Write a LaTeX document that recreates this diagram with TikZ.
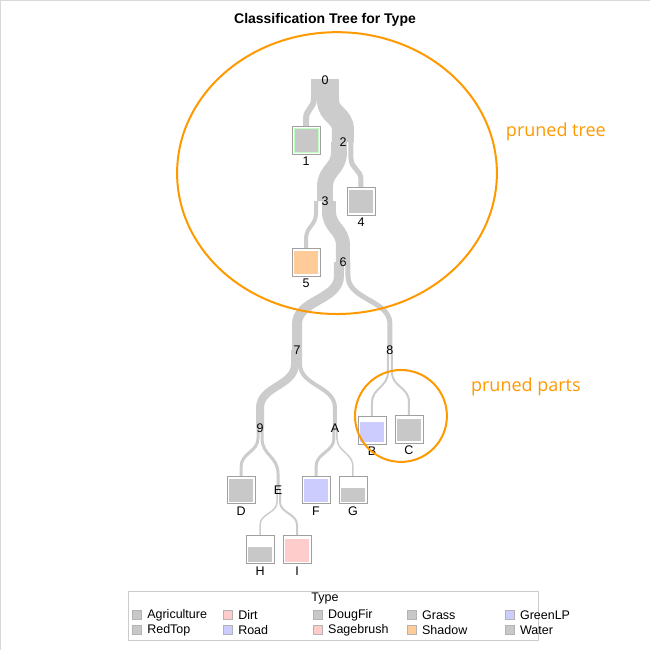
\documentclass[tikz,border=0pt]{standalone}
\usepackage{fontspec}
\setmainfont{Liberation Sans}
\newfontfamily\notefont{Open Sans}
\usetikzlibrary{calc}
\definecolor{brc}{HTML}{CCCCCC}
\definecolor{bxc}{HTML}{A0A0A0}
\definecolor{org}{HTML}{FF9900}
\definecolor{gfill}{HTML}{C8C8C8}
\definecolor{bfill}{HTML}{CCCCFF}
\definecolor{ofill}{HTML}{FFCC99}
\definecolor{pfill}{HTML}{FFCCCC}
\tikzset{
  br/.style={draw=brc},
  lab/.style={font=\fontsize{12.5}{12.5}\selectfont, inner sep=1pt},
  legt/.style={font=\fontsize{12.5}{12.5}\selectfont, anchor=west, inner sep=0pt},
}
% parent, child, width, curve start offset, curve end offset
\newcommand\tbr[5]{\draw[br,line width=#3pt] let \p1=(#1),\p2=(#2),\n1={(\y1-#4+\y2+#5)/2} in
  (\x1,\y1) -- (\x1,\y1-#4) .. controls (\x1,\n1) and (\x2,\n1) .. (\x2,\y2+#5) -- (\x2,\y2);}
% name, x, y, fill, fraction, label
\newcommand\leaf[6]{%
  \node[draw=bxc, fill=white, minimum size=28pt, inner sep=0pt, line width=0.8pt] (#1) at (#2,#3) {};
  \fill[#4] ($(#1.south west)+(2.5pt,2.5pt)$) rectangle ($(#1.south east)+(-2.5pt,{2.5pt+23pt*#5})$);
  \node[lab, anchor=north] (#1l) at ($(#1.south)+(0,-1pt)$) {#6};}
\newcommand\sw[2]{\draw[bxc!80, fill=#2] ($(#1)+(-4.5pt,-4.5pt)$) rectangle ($(#1)+(4.5pt,4.5pt)$);}
\begin{document}
\begin{tikzpicture}[x=1pt,y=-1pt]
\draw[gray!30, fill=white] (0,0) rectangle (650,650);
\useasboundingbox (0,0) rectangle (650,650);
\node[font=\bfseries\fontsize{14}{14}\selectfont] (title) at (325,20) {Classification Tree for Type};
% internal node coordinates
\coordinate (p0a) at (314,90); \coordinate (p0b) at (328,90);
\coordinate (n2) at (343,142); \coordinate (p2a) at (339,142); \coordinate (p2b) at (351,142);
\coordinate (n3) at (325,201); \coordinate (p3a) at (316,201); \coordinate (p3b) at (329,201);
\coordinate (n6) at (343,262); \coordinate (p6a) at (339,262); \coordinate (p6b) at (348,262);
\coordinate (n7) at (297,350); \coordinate (p7a) at (295,350); \coordinate (p7b) at (300,350);
\coordinate (n8) at (390,350); \coordinate (p8a) at (388,350); \coordinate (p8b) at (392,350);
\coordinate (n9) at (260,428); \coordinate (p9a) at (258,428); \coordinate (p9b) at (262,428);
\coordinate (nA) at (335,428); \coordinate (pAa) at (334,428); \coordinate (pAb) at (337,428);
\coordinate (nE) at (278,490); \coordinate (pEa) at (277,490); \coordinate (pEb) at (280,490);
\fill[brc] (311,79) rectangle (339,92);
% leaf positions
\coordinate (c1) at (306,127); \coordinate (c4) at (361,188); \coordinate (c5) at (306,249);
\coordinate (cB) at (372,417); \coordinate (cC) at (409,416);
\coordinate (cD) at (241,477); \coordinate (cF) at (316,477); \coordinate (cG) at (353,477);
\coordinate (cH) at (260,537); \coordinate (cI) at (297,537);
% branches
\tbr{p0a}{c1}{6}{8}{8}
\tbr{p0b}{n2}{22}{10}{12}
\tbr{p2a}{n3}{16}{10}{14}
\tbr{p2b}{c4}{5}{16}{8}
\tbr{p3a}{c5}{4}{12}{10}
\tbr{p3b}{n6}{14}{10}{16}
\tbr{p6a}{n7}{10}{14}{26}
\tbr{p6b}{n8}{5}{14}{26}
\tbr{p7a}{n9}{8}{14}{20}
\tbr{p7b}{nA}{4}{14}{20}
\tbr{p8a}{cB}{2}{22}{14}
\tbr{p8b}{cC}{2}{22}{14}
\tbr{p9a}{cD}{3}{10}{10}
\tbr{p9b}{nE}{3}{10}{16}
\tbr{pAa}{cF}{3}{10}{10}
\tbr{pAb}{cG}{1.5}{10}{10}
\tbr{pEa}{cH}{1.5}{12}{12}
\tbr{pEb}{cI}{2}{12}{12}
% internal labels
\node[lab] (l0) at (325,80) {0};
\node[lab] (l2) at (n2) {2};
\node[lab] (l3) at (n3) {3};
\node[lab] (l6) at (n6) {6};
\node[lab] (l7) at (n7) {7};
\node[lab] (l8) at (n8) {8};
\node[lab] (l9) at (n9) {9};
\node[lab] (lA) at (nA) {A};
\node[lab] (lE) at (nE) {E};
% leaves
\leaf{b1}{306}{140}{gfill}{1}{1}
\draw[green!25, line width=0.8pt] ($(b1.south west)+(2.5pt,2.5pt)$) rectangle ($(b1.north east)+(-2.5pt,-2.5pt)$);
\leaf{b4}{361}{201}{gfill}{1}{4}
\leaf{b5}{306}{262}{ofill}{1}{5}
\leaf{bB}{372}{430}{bfill}{0.85}{B}
\leaf{bC}{409}{429}{gfill}{0.93}{C}
\leaf{bD}{241}{490}{gfill}{1}{D}
\leaf{bF}{316}{490}{bfill}{1}{F}
\leaf{bG}{353}{490}{gfill}{0.6}{G}
\leaf{bH}{260}{550}{gfill}{0.65}{H}
\leaf{bI}{297}{550}{pfill}{1}{I}
% annotations
\draw[org, line width=2pt] (337,173) ellipse [x radius=160, y radius=141];
\draw[org, line width=2pt] (401,416) circle [radius=46];
\node[org, font=\notefont\fontsize{18}{18}\selectfont] (t1) at (556,132) {pruned tree};
\node[org, font=\notefont\fontsize{18}{18}\selectfont] (t2) at (526,387) {pruned parts};
% legend
\draw[gray!40, fill=white] (128,591) rectangle (538,640);
\node[legt, anchor=center] (lt) at (325,599) {Type};
\foreach \xx/\tt/\cc [count=\i] in {137/Agriculture/gfill,228/Dirt/pfill,318/DougFir/gfill,412/Grass/gfill,510/GreenLP/bfill}{
  \coordinate (s\i) at (\xx,615); \sw{s\i}{\cc} \node[legt] at (\xx+10,615) {\tt};}
\foreach \xx/\tt/\cc [count=\i] in {137/RedTop/gfill,228/Road/bfill,318/Sagebrush/pfill,412/Shadow/ofill,510/Water/gfill}{
  \coordinate (r\i) at (\xx,630); \sw{r\i}{\cc} \node[legt] at (\xx+10,630) {\tt};}
\end{tikzpicture}
\end{document}
